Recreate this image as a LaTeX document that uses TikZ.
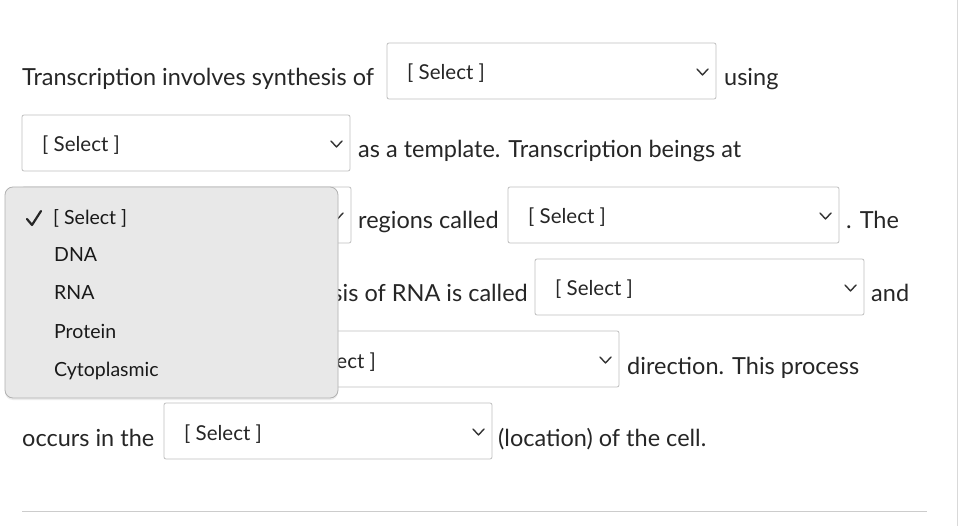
\documentclass[tikz,border=0pt]{standalone}
\usepackage{fontspec}
\setmainfont{Lato}
\usetikzlibrary{shadows}
\tikzset{
 txt/.style={anchor=base west,inner sep=0pt,font=\fontsize{23.5}{26}\selectfont,text=black!85},
 seltxt/.style={anchor=base west,inner sep=0pt,font=\fontsize{20.5}{24}\selectfont,text=black!85},
 item/.style={anchor=base west,inner sep=0pt,font=\fontsize{19.5}{23}\selectfont,text=black!90},
 selbox/.style={draw=black!25,fill=white,rounded corners=2pt,line width=0.8pt},
 chev/.style={line width=1.4pt,draw=black!80,line cap=round,line join=round}
}
\newcommand{\selframe}[3]{%
 \draw[selbox] (#1,#2) rectangle (#3,#2+56);
 \draw[chev] (#3-19,#2+26) -- (#3-13.5,#2+32) -- (#3-8,#2+26);
}
\newcommand{\selbox}[4]{% x1,y1,x2,name
 \selframe{#1}{#2}{#3}
 \node[seltxt] (#4t) at (#1+20,#2+37) {[ Select ]};
}
\begin{document}
\begin{tikzpicture}[x=1pt,y=-1pt]
\useasboundingbox (0,0) rectangle (966,526);
\fill[white] (0,0) rectangle (966,526);
\draw[black!15,line width=1pt] (957,0) -- (957,526);
\draw[black!20,line width=1pt] (22,511) -- (927,511);
% line 1
\node[txt] (l1) at (22,86) {Transcription involves synthesis of};
\selbox{387}{43}{716}{b1}
\node[txt] (l1b) at (724,86) {using};
% line 2
\selbox{22}{115}{350}{b2}
\node[txt] (l2) at (358,158) {as a template. Transcription beings at};
% line 3
\selframe{22}{187}{351}
\node[txt] (l3) at (358,229) {regions called};
\selbox{508}{187}{839}{b4}
\node[txt] (l3b) at (846,229) {. The};
% line 4
\node[txt,anchor=base east] (l4) at (528,302) {sis of RNA is called};
\selbox{535}{259}{864}{b5}
\node[txt] (l4b) at (871,302) {and};
% line 5
\selframe{290}{331}{619}
\node[seltxt] (b6t) at (298,368) {[ Select ]};
\node[txt] (l5) at (627,374) {direction. This process};
% line 6
\node[txt] (l6) at (22,446) {occurs in the};
\selbox{164}{403}{492}{b7}
\node[txt] (l6b) at (498,446) {(location) of the cell.};
% dropdown
\draw[draw=black!30,fill=black!9,rounded corners=8pt,line width=0.8pt,drop shadow={opacity=0.15,shadow xshift=0pt,shadow yshift=-2pt}] (5,187) rectangle (338,398);
\draw[line width=2.2pt,black!85,line cap=round,line join=round] (27,219) -- (32,225) -- (41,211);
\node[item] (i0) at (53,225) {[ Select ]};
\node[item] (i1) at (54,262) {DNA};
\node[item] (i2) at (54,300) {RNA};
\node[item] (i3) at (54,338) {Protein};
\node[item] (i4) at (54,376) {Cytoplasmic};
\end{tikzpicture}
\end{document}
